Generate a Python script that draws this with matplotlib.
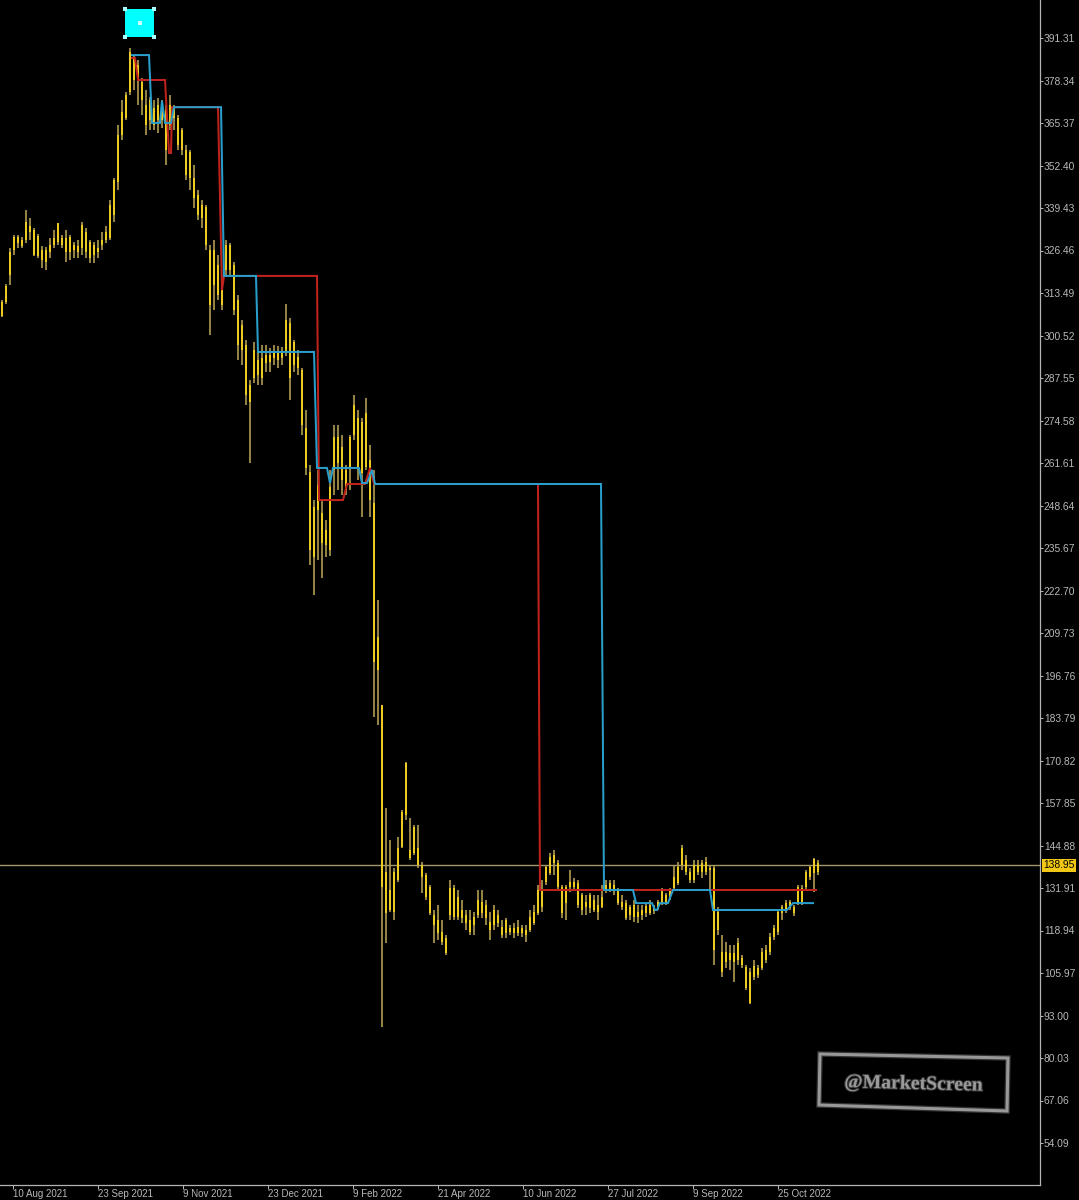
import matplotlib
matplotlib.use("Agg")
import matplotlib.pyplot as plt
import matplotlib.patheffects as pe
from matplotlib.patches import Rectangle, Polygon

# ---- data (prices, one candle per 1.5 sessions) ----
high = [311.3,316.2,327.2,331.2,331.2,330.6,338.8,336.4,333.3,331.5,327.8,327.5,330.3,332.7,334.9,331.2,332.7,331.2,329.0,329.7,
        335.2,333.3,329.7,329.0,329.7,332.1,333.9,341.9,348.6,364.8,372.4,374.8,388.3,386.1,384.6,379.1,375.4,373.3,372.4,373.0,
        372.4,370.9,373.9,370.9,367.8,363.8,358.7,357.1,352.5,344.9,341.9,340.3,328.1,329.7,325.1,317.4,329.7,328.7,323.0,312.9,
        305.2,299.1,286.9,298.5,295.5,297.6,297.6,296.7,297.6,297.3,297.0,310.1,305.8,299.1,296.1,290.6,277.8,261.0,250.3,259.5,
        250.3,244.2,259.5,273.2,273.2,270.1,261.0,270.1,282.4,277.8,275.3,281.4,267.1,259.5,219.8,187.7,156.3,146.5,138.0,147.5,
        155.7,170.4,153.3,151.1,151.1,139.8,136.5,132.8,125.2,126.7,122.1,117.6,134.3,132.8,131.3,128.2,125.2,125.2,124.6,131.3,
        131.3,128.2,124.6,126.7,125.2,122.1,122.7,120.6,121.2,122.1,120.6,120.6,125.2,126.7,132.8,134.3,138.9,142.6,143.5,140.4,
        132.8,132.8,137.5,135.0,134.3,130.4,129.8,130.4,129.8,129.8,132.8,134.3,134.3,134.3,131.9,129.8,128.2,126.7,128.2,126.7,
        126.7,127.3,128.2,126.7,128.2,131.9,130.4,131.9,138.9,139.8,145.0,142.0,138.0,140.4,140.4,140.4,141.4,138.9,138.9,126.1,
        117.6,115.4,114.5,114.5,116.6,111.5,108.4,107.5,109.9,108.4,113.6,114.5,118.2,120.6,125.2,126.7,128.2,128.2,126.7,132.8,
        132.8,137.5,138.9,141.0,140.4]
low = [306.2,310.1,315.9,325.1,327.2,327.2,328.7,329.7,324.8,324.2,321.1,320.5,324.2,327.2,328.1,327.2,322.9,323.5,324.2,324.2,
       325.1,324.2,322.6,322.6,324.2,326.6,328.7,329.7,335.2,344.9,360.2,366.3,373.9,375.4,370.9,367.8,361.7,363.2,363.2,362.3,
       363.8,352.5,363.2,363.2,357.1,355.6,348.0,344.9,339.4,335.8,333.3,326.6,300.7,308.3,311.3,308.3,319.0,319.0,306.8,293.0,
       291.5,279.3,261.6,286.0,285.4,285.4,289.4,289.4,291.5,290.6,291.5,294.3,280.8,289.4,288.5,270.1,258.0,230.5,221.3,232.0,
       226.5,232.9,233.2,251.8,253.4,251.8,251.8,253.4,268.6,256.4,245.1,259.5,245.1,184.1,181.6,89.5,115.1,124.6,122.0,133.7,
       144.0,152.7,140.4,142.0,138.0,130.4,128.2,123.7,115.1,116.0,114.5,111.5,122.1,122.1,122.1,121.2,119.1,117.6,117.6,122.7,
       122.7,120.6,116.0,119.1,120.0,116.6,116.6,117.6,116.6,117.3,117.0,115.4,118.5,120.6,123.7,124.6,132.8,135.9,135.9,131.3,
       122.7,122.1,130.7,131.3,125.8,123.7,123.7,124.3,124.6,122.1,125.8,130.4,130.7,129.8,126.7,125.2,122.1,122.1,121.5,121.2,
       122.1,123.0,123.7,124.0,125.2,126.7,126.7,128.2,131.3,132.8,137.5,135.9,133.4,133.4,135.9,135.0,135.9,131.3,108.4,117.6,
       104.7,107.5,106.9,103.2,108.4,107.5,100.8,96.5,103.8,104.4,106.9,109.0,111.5,116.0,117.6,122.1,124.3,125.2,123.3,126.7,
       126.7,131.3,134.3,130.7,135.9]
body_top = [310.7,315.6,326.0,330.6,330.6,329.7,335.2,333.9,332.7,330.9,326.6,326.6,328.1,330.3,334.9,330.3,330.3,330.6,328.1,327.8,
            334.2,332.1,329.0,328.1,327.2,329.7,332.1,340.3,348.0,361.7,368.7,373.9,387.0,385.2,383.0,377.9,370.9,372.4,369.9,370.9,
            371.8,369.3,370.9,369.9,366.9,363.2,357.1,356.5,348.6,343.4,340.3,339.7,326.6,326.6,322.0,315.9,328.1,328.1,322.0,311.3,
            303.7,297.6,285.4,296.1,293.0,293.6,294.6,294.6,295.5,295.2,295.5,305.2,304.3,298.5,294.0,290.0,272.3,258.9,248.2,254.9,
            246.3,241.2,254.3,269.5,269.5,266.5,259.5,269.5,279.3,275.3,274.1,276.9,262.5,249.4,208.5,187.7,136.8,131.3,136.8,144.0,
            155.1,170.0,143.5,150.5,144.0,138.9,135.9,132.2,123.7,122.1,118.5,116.6,131.9,131.9,129.2,125.2,123.7,122.1,123.0,128.2,
            127.6,126.7,121.5,125.2,123.7,120.0,122.1,119.7,119.7,120.0,119.7,119.1,123.0,124.6,131.3,131.3,138.3,141.4,142.0,139.5,
            132.2,132.2,133.7,133.7,133.4,129.8,127.6,129.8,128.2,126.7,129.2,132.8,133.4,132.8,131.3,127.6,127.3,126.1,126.7,124.6,
            125.2,126.4,126.7,126.1,127.6,131.3,129.8,131.3,135.3,138.3,144.0,140.4,136.8,138.9,138.9,139.5,139.8,138.0,138.0,124.6,
            112.3,112.3,112.0,112.0,115.1,110.5,107.8,106.3,108.1,107.5,112.3,113.0,117.0,119.7,124.6,126.1,127.3,127.6,126.1,132.2,
            131.9,136.8,138.3,140.7,139.5]
body_bottom = [306.5,310.7,319.0,326.6,328.7,327.8,329.7,332.1,325.1,324.8,323.5,322.9,326.0,328.1,329.0,328.1,326.0,326.0,326.6,326.0,
               327.2,326.0,324.2,325.1,326.0,328.1,329.7,330.3,337.3,347.4,361.7,366.9,374.8,378.5,378.5,372.4,364.8,366.3,364.8,366.3,
               366.3,357.1,364.8,366.9,358.7,357.1,349.5,348.6,342.5,337.3,336.4,328.1,309.8,315.9,312.9,309.8,320.5,320.5,308.3,297.6,
               296.1,282.4,280.2,287.5,288.5,287.5,292.1,292.4,293.6,293.0,293.6,295.5,287.5,291.5,290.6,273.2,260.1,235.1,232.9,247.3,
               237.2,236.6,235.1,259.5,261.6,256.4,253.4,260.4,270.1,260.4,258.6,260.4,250.3,200.9,198.4,132.2,124.3,125.2,124.6,134.3,
               144.4,154.2,141.0,142.6,138.9,135.3,129.2,124.3,120.6,118.2,115.4,112.1,123.7,123.0,123.0,122.7,121.2,118.5,120.6,123.7,
               124.3,122.7,119.1,120.6,121.2,117.6,118.2,118.5,118.2,118.2,118.2,117.6,119.1,121.2,124.3,126.1,133.7,136.5,139.5,132.2,
               124.3,127.3,132.2,132.2,126.7,125.2,126.1,125.8,125.2,124.6,126.1,131.3,131.3,131.3,127.3,126.1,122.7,123.7,123.0,123.0,
               123.7,124.3,124.3,124.9,125.8,127.3,127.3,128.8,131.9,133.4,138.9,136.8,134.3,134.3,136.8,136.8,136.8,137.5,113.0,119.1,
               106.3,109.3,109.9,109.3,109.9,108.4,101.4,96.8,104.7,105.3,107.5,109.9,112.3,117.0,118.5,124.3,125.2,125.8,124.3,127.3,
               127.3,132.2,135.3,136.5,136.8]

blue_bar = [32.5,36.75,37.5,39.5,40,40.75,42.25,43,54.75,55.5,63.5,64,78,78.75,81.25,82,82.75,89.25,90,91.25,92.5,93.25,
            149.75,150.5,157.75,158.5,162.5,163.25,163.75,164.5,166.5,167.75,177,177.75,196.25,197.75,202.75]
blue_price = [386.1,386.1,365.4,365.4,372.1,365.4,365.4,370.2,370.2,318.7,318.7,295.5,295.5,260.1,260.1,255.5,260.1,260.1,255.5,255.5,259.5,255.2,
              255.2,131.3,131.3,127.3,127.3,125.2,125.2,127.3,127.3,131.3,131.3,125.2,125.2,127.3,127.3]
red_bar = [32.5,33.25,34,40.75,41.75,42.25,42.5,54,55,55.5,78.75,79.25,85.25,86.25,90.75,92,93,134,134.5,203.5]
red_price = [385.2,385.2,378.5,378.5,356.2,356.2,370.2,370.2,314.4,318.7,318.7,250.3,250.3,255.2,255.2,260.1,255.2,255.2,131.3,131.3]

last_price = 138.95
y_ticks = [391.31,378.34,365.37,352.40,339.43,326.46,313.49,300.52,287.55,274.58,261.61,248.64,235.67,222.70,209.73,196.76,
           183.79,170.82,157.85,144.88,131.91,118.94,105.97,93.00,80.03,67.06,54.09]
date_labels = ["10 Aug 2021","23 Sep 2021","9 Nov 2021","23 Dec 2021","9 Feb 2022","21 Apr 2022","10 Jun 2022",
               "27 Jul 2022","9 Sep 2022","25 Oct 2022"]
date_bars = [2.75,24.0,45.25,66.5,87.75,109.0,130.25,151.5,172.75,194.0]

W, H = 1079, 1200
AX_R, AX_B = 1040, 1185
plt.rcParams['font.family'] = ['Liberation Sans', 'DejaVu Sans']
fig = plt.figure(figsize=(W/100, H/100), dpi=100, facecolor='black')
ax = fig.add_axes([0, 1-AX_B/H, AX_R/W, AX_B/H], facecolor='black')

def y2p(y):
    return 391.31 - (y-38)*12.97/42.5

ax.set_xlim(-0.5, 259.5)
ax.set_ylim(y2p(AX_B), y2p(0))

n = len(high)
assert len(low) == n and len(body_top) == n and len(body_bottom) == n
xs = list(range(n))
ax.vlines(xs, low, high, color='#b09d52', lw=1.2, zorder=2)
ax.bar(xs, [t-b for t, b in zip(body_top, body_bottom)], bottom=body_bottom, width=0.56,
       color='#eecb20', edgecolor='none', zorder=3)

ax.axhline(last_price, color='#a0966a', lw=1.0, zorder=1)
ax.plot(red_bar, red_price, color='#c0221c', lw=1.45, zorder=4, solid_joinstyle='miter')
ax.plot(blue_bar, blue_price, color='#2a9ecb', lw=1.45, zorder=5, solid_joinstyle='miter')

# axes frame and ticks
for s in ['top', 'left']:
    ax.spines[s].set_visible(False)
for s in ['right', 'bottom']:
    ax.spines[s].set_color('#b4b4b4')
    ax.spines[s].set_linewidth(0.9)
ax.yaxis.tick_right()
ax.set_yticks(y_ticks)
ax.set_yticklabels([f"{v:.2f}" for v in y_ticks])
ax.tick_params(axis='y', colors='#b8b8b8', length=2.2, width=0.7, pad=0.6, labelsize=7.4)
ax.set_xticks(date_bars)
ax.set_xticklabels(date_labels, ha='left')
ax.tick_params(axis='x', colors='#b8b8b8', length=2.6, width=0.7, pad=0.2, labelsize=7.0)

# last price tag
ov = fig.add_axes([0, 0, 1, 1], facecolor='none')
ov.set_xlim(0, W); ov.set_ylim(H, 0); ov.axis('off')
ov.add_patch(Rectangle((1042, 859), 34, 12.5, fc='#f0c814', ec='none'))
ov.text(1059, 865.5, f"{last_price:.2f}", color='black', fontsize=7.4, ha='center', va='center')

# selected square marker
ov.add_patch(Rectangle((125, 9), 29, 28, fc='#00ffff', ec='none'))
for cx, cy in [(125, 9), (154, 9), (125, 37), (154, 37)]:
    ov.add_patch(Rectangle((cx-2.2, cy-2.2), 4.4, 4.4, fc='#a8ffff', ec='none'))
ov.add_patch(Rectangle((138, 21), 3.5, 3.5, fc='#c8ffff', ec='none'))

# watermark
ov.add_patch(Polygon([(820, 1054), (1008, 1058), (1007, 1111), (819, 1105)], closed=True, fc='none',
                     ec='#989898', lw=2.2,
                     path_effects=[pe.Stroke(linewidth=4, foreground='#333333'), pe.Normal()]))
ov.text(913.5, 1084, "@MarketScreen", family='Liberation Serif', weight='bold', fontsize=14.2, color='#9a9a9a',
        ha='center', va='center', rotation=-1.4, rotation_mode='anchor',
        path_effects=[pe.withStroke(linewidth=1.5, foreground='#333333')])

fig.savefig('out.png', dpi=100, facecolor='black')
